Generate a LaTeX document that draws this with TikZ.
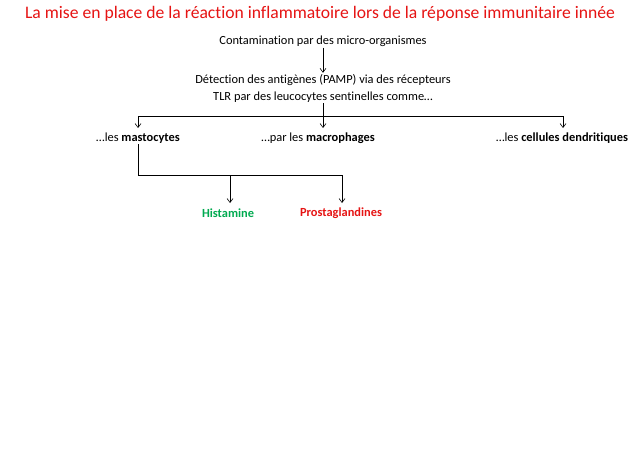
\documentclass[tikz,border=0pt]{standalone}
\usepackage{fontspec}
\setmainfont{Carlito}[Ligatures=NoCommon]
\usetikzlibrary{arrows.meta}
\definecolor{tred}{RGB}{230,20,20}
\definecolor{tgreen}{RGB}{0,170,80}
\begin{document}
\begin{tikzpicture}[x=1pt,y=-1pt,
  lbl/.style={font=\fontsize{12.4}{17}\selectfont,inner sep=1pt,align=center},
  arr/.style={-{Straight Barb[length=4pt,width=6pt]},line width=0.6pt},
  ln/.style={line width=0.6pt}]
\useasboundingbox[fill=white] (0,0) rectangle (640,460);
\node[font=\fontsize{17.6}{20}\selectfont,text=tred] (title) at (320,14) {La mise en place de la réaction inflammatoire lors de la réponse immunitaire innée};
\node[lbl] (cont) at (323,41) {Contamination par des micro-organismes};
\node[lbl] (det) at (323,88) {Détection des antigènes (PAMP) via des récepteurs\\TLR par des leucocytes sentinelles comme…};
\draw[arr] (cont) -- (det);
\node[lbl] (mast) at (138,138) {…les \textbf{mastocytes}};
\node[lbl] (macro) at (318,138) {…par les \textbf{macrophages}};
\node[lbl] (dend) at (562,138) {…les \textbf{cellules dendritiques}};
\coordinate (j) at (323,116);
\draw[ln] (det.south -| j) -- (j);
\draw[ln] (138,116) -- (563,116);
\draw[arr] (138,116) -- (138,128);
\draw[arr] (j) -- (323,128);
\draw[arr] (563,116) -- (563,128);
\node[lbl,text=tgreen] (hist) at (228,213) {\textbf{Histamine}};
\node[lbl,text=tred] (prost) at (341,213) {\textbf{Prostaglandines}};
\coordinate (k) at (138,175);
\draw[ln] (mast.south -| k) -- (k) -- (342,175);
\draw[arr] (230,175) -- (230,203);
\draw[arr] (342,175) -- (342,203);
\end{tikzpicture}
\end{document}
